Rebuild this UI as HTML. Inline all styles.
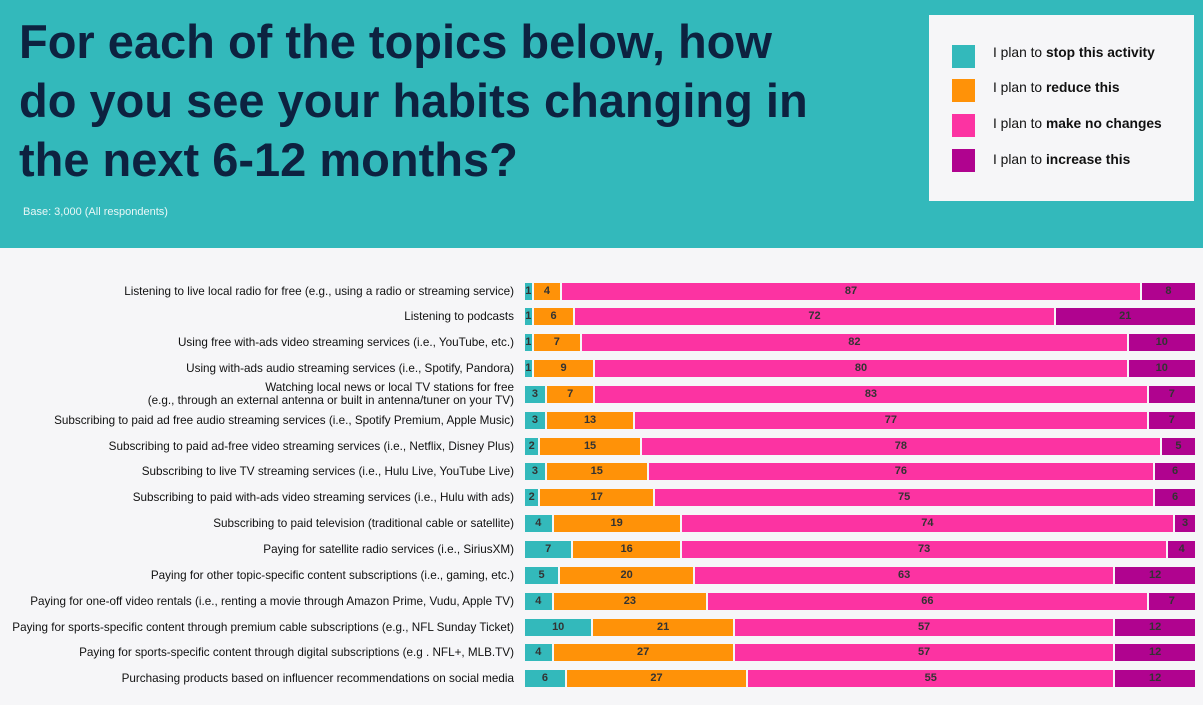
<!DOCTYPE html>
<html><head><meta charset="utf-8">
<style>
*{margin:0;padding:0;box-sizing:border-box}
body{width:1203px;height:705px;background:#f6f6f8;font-family:"Liberation Sans",sans-serif;position:relative;overflow:hidden}
#hdr{position:absolute;left:0;top:0;width:1203px;height:248px;background:#33b9bb}
#title{position:absolute;left:19px;top:12px;font-size:47px;font-weight:bold;line-height:59px;color:#0d2240;letter-spacing:0}
#base{position:absolute;left:23px;top:206px;font-size:11px;color:#eaf7f7}
#leg{position:absolute;left:929px;top:15px;width:265px;height:186px;background:#f6f6f8}
.sw{position:absolute;left:23px;width:23px;height:23px}
.lt{position:absolute;left:64px;font-size:13.8px;color:#111}
.lab{position:absolute;right:689px;font-size:11.7px;color:#111;text-align:right;white-space:nowrap;line-height:13px}
.seg{position:absolute;height:17px;font-size:11px;font-weight:bold;color:#333;text-align:center;line-height:17px}
</style></head><body>
<div id="hdr"></div>
<div id="title">For each of the topics below, how<br>do you see your habits changing in<br>the next 6-12 months?</div>
<div id="base">Base: 3,000 (All respondents)</div>
<div id="leg">
<div class="sw" style="top:30px;background:#33b9bb"></div><div class="lt" style="top:30px">I plan to <b>stop this activity</b></div>
<div class="sw" style="top:64px;background:#ff9208"></div><div class="lt" style="top:65px">I plan to <b>reduce this</b></div>
<div class="sw" style="top:99px;background:#fc33a2"></div><div class="lt" style="top:101px">I plan to <b>make no changes</b></div>
<div class="sw" style="top:134px;background:#b0038f"></div><div class="lt" style="top:137px">I plan to <b>increase this</b></div>
</div>
<div id="chart"></div>
<script>
var rows=[
["Listening to live local radio for free (e.g., using a radio or streaming service)",[1,4,87,8]],
["Listening to podcasts",[1,6,72,21]],
["Using free with-ads video streaming services (i.e., YouTube, etc.)",[1,7,82,10]],
["Using with-ads audio streaming services (i.e., Spotify, Pandora)",[1,9,80,10]],
["Watching local news or local TV stations for free<br>(e.g., through an external antenna or built in antenna/tuner on your TV)",[3,7,83,7]],
["Subscribing to paid ad free audio streaming services (i.e., Spotify Premium, Apple Music)",[3,13,77,7]],
["Subscribing to paid ad-free video streaming services (i.e., Netflix, Disney Plus)",[2,15,78,5]],
["Subscribing to live TV streaming services (i.e., Hulu Live, YouTube Live)",[3,15,76,6]],
["Subscribing to paid with-ads video streaming services (i.e., Hulu with ads)",[2,17,75,6]],
["Subscribing to paid television (traditional cable or satellite)",[4,19,74,3]],
["Paying for satellite radio services (i.e., SiriusXM)",[7,16,73,4]],
["Paying for other topic-specific content subscriptions (i.e., gaming, etc.)",[5,20,63,12]],
["Paying for one-off video rentals (i.e., renting a movie through Amazon Prime, Vudu, Apple TV)",[4,23,66,7]],
["Paying for sports-specific content through premium cable subscriptions (e.g., NFL Sunday Ticket)",[10,21,57,12]],
["Paying for sports-specific content through digital subscriptions (e.g . NFL+, MLB.TV)",[4,27,57,12]],
["Purchasing products based on influencer recommendations on social media",[6,27,55,12]]];
var cols=["#33b9bb","#ff9208","#fc33a2","#b0038f"];
var h="";
rows.forEach(function(r,i){
 var cy=291+i*25.85;
 var two=r[0].indexOf("<br>")>=0;
 h+='<div class="lab" style="top:'+(cy-(two?13:6.5))+'px">'+r[0]+'</div>';
 var sum=r[1].reduce(function(a,b){return a+b},0);
 var x=525,W=670-6;
 r[1].forEach(function(v,j){
  var w=v/sum*W;
  h+='<div class="seg" style="left:'+x+'px;top:'+(cy-8.5)+'px;width:'+w+'px;background:'+cols[j]+'">'+v+'</div>';
  x+=w+2;
 });
});
document.getElementById("chart").innerHTML=h;
</script>
</body></html>
